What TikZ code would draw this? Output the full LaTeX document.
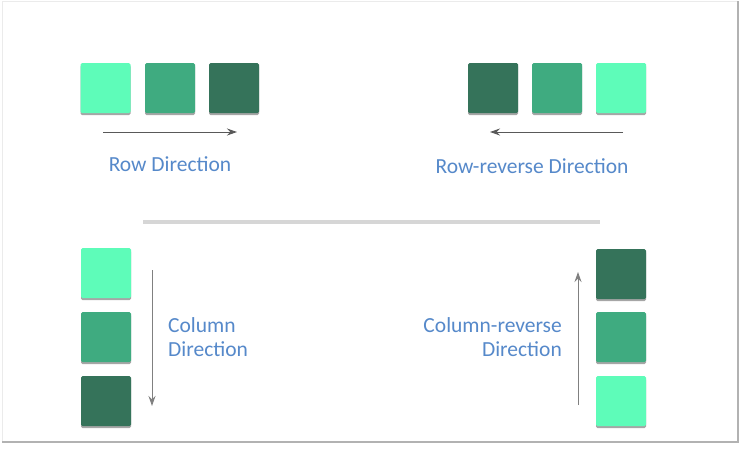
\documentclass[tikz,border=0pt]{standalone}
\usepackage{fontspec}
\setmainfont{Carlito}
\usepackage{xcolor}
\usepackage{tikz}
\usetikzlibrary{arrows.meta,positioning,shadows}

\definecolor{sqlight}{HTML}{5EFCB9}
\definecolor{sqmid}{HTML}{3FAB80}
\definecolor{sqdark}{HTML}{35735A}
\definecolor{lbl}{HTML}{5689CA}

\tikzset{
    sq/.style={minimum size=50pt, inner sep=0pt, rounded corners=1.5pt,
        drop shadow={shadow xshift=0pt, shadow yshift=-2pt, opacity=0.35, fill=black}},
    dirarrow/.style={-{Stealth[length=10pt,width=7pt]}, line width=1pt, draw=black!65},
    dirlabel/.style={text=lbl, font=\fontsize{21.5}{24}\selectfont, inner sep=0pt}
}

\begin{document}
\begin{tikzpicture}[x=1pt, y=-1pt]
    \useasboundingbox (0,0) rectangle (742,448);

    % 卡片
    \draw[fill=white, draw=black!8] (2,1) rectangle (738,442);
    \draw[black!30, line width=1.5pt] (2,442) -- (738,442) -- (738,1);

    % 行方向
    \node[sq, fill=sqlight] (r1) at (105.5,88) {};
    \node[sq, fill=sqmid]   (r2) at (170,88) {};
    \node[sq, fill=sqdark]  (r3) at (234,88) {};
    \coordinate (ra) at (103,132);
    \coordinate (rb) at (237,132);
    \draw[dirarrow] (ra) -- (rb);
    \node[dirlabel] (rowtxt) at (170,164) {Row Direction};

    % 行反向
    \node[sq, fill=sqdark]  (rr1) at (493,88) {};
    \node[sq, fill=sqmid]   (rr2) at (557,88) {};
    \node[sq, fill=sqlight] (rr3) at (621,88) {};
    \coordinate (rra) at (623,132);
    \coordinate (rrb) at (490,132);
    \draw[dirarrow] (rra) -- (rrb);
    \node[dirlabel] (rrtxt) at (532,166) {Row-reverse Direction};

    % 分隔线
    \coordinate (sepa) at (143,222);
    \coordinate (sepb) at (600,222);
    \draw[black!16, line width=4pt] (sepa) -- (sepb);

    % 列方向
    \node[sq, fill=sqlight] (c1) at (106,273) {};
    \node[sq, fill=sqmid]   (c2) at (106,337) {};
    \node[sq, fill=sqdark]  (c3) at (106,401) {};
    \coordinate (ca) at (152,270);
    \coordinate (cb) at (152,406);
    \draw[dirarrow, draw=black!50] (ca) -- (cb);
    \node[dirlabel, anchor=west, align=left] (coltxt) at (168,337) {Column\\Direction};

    % 列反向
    \node[sq, fill=sqdark]  (cr1) at (621,274) {};
    \node[sq, fill=sqmid]   (cr2) at (621,337) {};
    \node[sq, fill=sqlight] (cr3) at (621,401) {};
    \coordinate (cra) at (578,405);
    \coordinate (crb) at (578,272);
    \draw[dirarrow, draw=black!50] (cra) -- (crb);
    \node[dirlabel, anchor=east, align=right] (crtxt) at (562,337) {Column-reverse\\Direction};
\end{tikzpicture}
\end{document}
